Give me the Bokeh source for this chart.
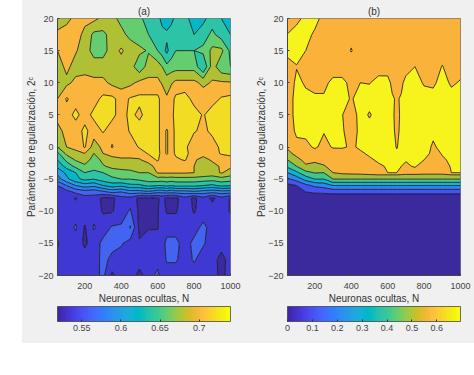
from bokeh.embed import file_html
from bokeh.resources import INLINE
from bokeh.plotting import figure
from bokeh.layouts import row
from bokeh.models import ColorBar, LinearColorMapper, FixedTicker, Range1d

N = [50,100,150,200,250,300,350,400,450,500,550,600,625,650,675,700,750,800,850,900,950,1000]
C = [20,17.5,15,12.5,10,7.5,5,2.5,0,-1,-2,-3,-4,-5,-6,-7,-8,-10,-12.5,-15,-17.5,-20]

ZA = [
[.695,.695,.705,.705,.705,.695,.685,.675,.67,.665,.65,.645,.635,.625,.635,.645,.65,.625,.635,.65,.64,.63],
[.702,.708,.708,.695,.675,.675,.688,.685,.675,.668,.66,.65,.645,.645,.648,.65,.655,.64,.65,.665,.65,.64],
[.70,.718,.702,.69,.672,.672,.69,.703,.69,.685,.678,.66,.65,.635,.65,.66,.66,.66,.665,.685,.685,.655],
[.69,.705,.692,.69,.69,.69,.69,.69,.69,.665,.69,.69,.68,.665,.67,.672,.672,.672,.64,.69,.665,.66],
[.69,.695,.705,.71,.705,.705,.695,.692,.695,.705,.705,.705,.698,.693,.698,.705,.705,.705,.695,.702,.703,.702],
[.70,.722,.712,.712,.712,.725,.725,.712,.722,.725,.725,.725,.712,.702,.712,.725,.73,.712,.712,.712,.722,.725],
[.705,.712,.725,.712,.725,.73,.725,.712,.725,.715,.73,.725,.712,.705,.712,.73,.735,.73,.718,.73,.73,.735],
[.695,.705,.71,.725,.71,.722,.71,.71,.722,.73,.73,.725,.712,.722,.712,.725,.73,.722,.715,.725,.73,.73],
[.68,.70,.705,.722,.69,.705,.722,.705,.71,.722,.725,.725,.712,.722,.712,.725,.725,.705,.705,.71,.725,.725],
[.655,.685,.695,.70,.68,.70,.705,.705,.705,.71,.722,.727,.712,.722,.712,.724,.727,.708,.705,.712,.722,.725],
[.64,.665,.682,.692,.67,.685,.695,.698,.698,.698,.708,.723,.708,.71,.708,.716,.722,.702,.695,.702,.708,.712],
[.625,.648,.665,.675,.668,.678,.685,.688,.688,.688,.692,.708,.705,.705,.705,.705,.705,.70,.69,.695,.702,.704],
[.605,.625,.64,.66,.655,.66,.67,.672,.675,.68,.68,.702,.702,.702,.702,.702,.702,.70,.695,.692,.702,.69],
[.59,.615,.635,.645,.64,.65,.655,.66,.66,.665,.67,.672,.67,.672,.67,.672,.672,.672,.67,.668,.672,.67],
[.56,.58,.60,.61,.605,.62,.63,.625,.635,.635,.645,.64,.64,.645,.64,.645,.645,.645,.64,.635,.645,.64],
[.54,.552,.565,.57,.568,.575,.585,.58,.59,.59,.595,.585,.585,.59,.585,.59,.59,.595,.59,.585,.59,.59],
[.548,.552,.538,.552,.552,.535,.535,.552,.552,.535,.535,.538,.545,.535,.535,.535,.552,.535,.552,.535,.552,.538],
[.545,.552,.552,.552,.552,.538,.538,.552,.562,.535,.535,.538,.55,.538,.538,.538,.552,.538,.55,.552,.552,.538],
[.55,.553,.562,.538,.562,.55,.562,.562,.582,.535,.538,.538,.552,.552,.552,.552,.552,.552,.565,.552,.552,.552],
[.538,.552,.552,.536,.55,.565,.565,.562,.552,.542,.552,.552,.552,.565,.565,.565,.552,.565,.562,.552,.552,.552],
[.545,.552,.552,.55,.552,.565,.556,.552,.552,.552,.552,.552,.552,.562,.562,.562,.552,.562,.552,.552,.53,.552],
[.552,.552,.552,.552,.552,.565,.535,.552,.552,.532,.552,.565,.552,.552,.552,.552,.552,.552,.552,.552,.532,.552],
]

ZB = [
[.63,.64,.66,.66,.64,.63,.63,.63,.63,.63,.63,.63,.63,.63,.63,.63,.63,.63,.63,.63,.63,.63],
[.651,.665,.66,.645,.63,.63,.63,.64,.63,.63,.63,.63,.63,.63,.63,.63,.63,.63,.63,.63,.63,.63],
[.665,.665,.65,.63,.63,.63,.63,.652,.63,.63,.63,.63,.63,.63,.63,.63,.63,.63,.63,.63,.63,.63],
[.63,.648,.63,.63,.63,.63,.63,.63,.63,.63,.63,.63,.63,.63,.63,.63,.65,.63,.63,.652,.63,.63],
[.62,.66,.645,.64,.64,.66,.66,.64,.65,.648,.665,.665,.64,.63,.64,.665,.67,.645,.64,.67,.642,.655],
[.62,.67,.66,.655,.655,.67,.67,.645,.67,.67,.67,.67,.655,.645,.655,.67,.67,.67,.67,.67,.67,.67],
[.62,.67,.67,.67,.67,.67,.652,.62,.67,.645,.67,.67,.655,.642,.655,.67,.67,.67,.67,.67,.67,.67],
[.62,.66,.66,.66,.652,.67,.655,.63,.66,.67,.67,.67,.655,.645,.655,.67,.67,.67,.658,.67,.67,.67],
[.61,.635,.64,.655,.64,.653,.655,.645,.655,.665,.67,.67,.66,.648,.66,.67,.67,.665,.645,.66,.66,.66],
[.58,.62,.63,.635,.635,.635,.63,.635,.645,.655,.66,.66,.655,.655,.66,.66,.66,.665,.64,.652,.66,.66],
[.50,.58,.62,.61,.62,.63,.63,.63,.635,.645,.655,.655,.655,.655,.652,.652,.652,.65,.63,.646,.655,.655],
[.42,.50,.59,.585,.595,.62,.625,.63,.63,.635,.645,.653,.652,.652,.65,.645,.653,.635,.63,.64,.652,.652],
[.30,.38,.47,.505,.50,.60,.62,.625,.63,.64,.65,.65,.65,.65,.642,.635,.635,.63,.63,.63,.65,.65],
[.18,.24,.34,.40,.40,.50,.50,.50,.50,.50,.50,.50,.50,.50,.50,.50,.50,.50,.50,.50,.50,.50],
[.07,.10,.17,.22,.24,.30,.30,.30,.30,.30,.30,.30,.30,.30,.30,.30,.30,.30,.30,.30,.30,.30],
[.03,.05,.10,.115,.12,.13,.13,.13,.13,.13,.13,.13,.13,.13,.13,.13,.13,.13,.13,.13,.13,.13],
[.01,.01,.02,.03,.03,.03,.03,.03,.03,.03,.03,.03,.03,.03,.03,.03,.03,.03,.03,.03,.03,.03],
[.005]*22,
[.005]*22,
[.005]*22,
[.005]*22,
[.005]*22,
]

LEVELS_A = [.52,.54,.56,.58,.60,.62,.64,.66,.68,.70,.72,.74]
COLORS_A = ["#3A2A9C","#4038D2","#4264F0","#2E82F8","#239FE5","#01B8CA","#2CC3A7","#63CD6F","#B0C035","#F9B53C","#F3DD24"]
LEVELS_B = [0,.1,.2,.3,.4,.5,.6,.65,.7]
COLORS_B = ["#3B2A9E","#4752F4","#2E86F7","#0CB5D5","#3BC893","#A4BD3A","#FBB23A","#F6F41C"]
PARULA = ["#3E26A8","#4029B5","#412EC0","#4332CB","#4537D5","#463CDE","#4741E5","#4747EB","#484DF0","#4752F4","#4758F8","#465DFA","#4563FC","#426AFD","#3E6FFF","#3875FE","#327BFC","#2F81FA","#2D87F7","#2D8CF3","#2B91EF","#2796EB","#2599E8","#23A0E5","#20A5E3","#1CA9DF","#18ADDB","#12B1D6","#08B5D0","#01B8CA","#02BBC3","#0BBDBC","#18BFB6","#24C1AE","#2CC3A7","#31C69F","#37C897","#3FCA8E","#4ACB84","#57CC7A","#64CD6F","#72CD64","#81CC59","#8FCB4E","#9DC943","#ABC739","#B9C431","#C5C22A","#D1BF27","#DCBD29","#E6BB2D","#F0BA36","#F8BA3D","#FEBE3C","#FEC338","#FEC932","#FCCF2D","#F9D726","#F7DE20","#F5E51B","#F5EC14","#F5F20E","#F7F908","#F9FB15"]

def panel(z, levels, colors, title, low, high, ticks, labels, w, left, right):
    p = figure(width=w, height=343, x_range=Range1d(50, 1000), y_range=Range1d(-20, 20),
               output_backend="svg", toolbar_location=None, title=title,
               min_border_left=left, min_border_right=right, min_border_top=18, min_border_bottom=68,
               border_fill_alpha=0, background_fill_alpha=0,
               x_axis_label="Neuronas ocultas, N", y_axis_label="Parámetro de regularización, 2ᶜ")
    p.contour(N, C[::-1], z[::-1], levels=levels, fill_color=colors, line_color="#111111", line_width=0.8)
    p.grid.visible = False
    p.outline_line_color = "#444444"
    p.outline_line_width = 0.7
    p.title.align = "center"
    p.title.text_font = "Liberation Sans"
    p.title.text_font_size = "10px"
    p.title.text_font_style = "normal"
    p.title.text_color = "#333333"
    p.title.offset = 0
    p.title.standoff = 4
    for ax in (p.xaxis[0], p.yaxis[0]):
        ax.major_tick_in = 2
        ax.major_tick_out = 0
        ax.minor_tick_line_color = None
        ax.axis_line_color = "#444444"
        ax.major_tick_line_color = "#444444"
        ax.major_label_text_font = "Liberation Sans"
        ax.major_label_text_font_size = "9px"
        ax.major_label_text_color = "#444444"
        ax.axis_label_text_font = "Liberation Sans"
        ax.axis_label_text_font_size = "10px"
        ax.axis_label_text_font_style = "normal"
        ax.axis_label_text_color = "#333333"
    p.xaxis[0].ticker = FixedTicker(ticks=[200,400,600,800,1000])
    p.yaxis[0].ticker = FixedTicker(ticks=[-20,-15,-10,-5,0,5,10,15,20])
    p.xaxis[0].major_label_standoff = 7
    p.yaxis[0].major_label_standoff = 4
    p.xaxis[0].axis_label_standoff = 1
    p.yaxis[0].axis_label_standoff = -2
    mapper = LinearColorMapper(palette=PARULA, low=low, high=high)
    cb = ColorBar(color_mapper=mapper, ticker=FixedTicker(ticks=ticks),
                  major_label_overrides=dict(zip(ticks, labels)),
                  width=173, height=15, padding=0, margin=0, location=(0, 0),
                  background_fill_alpha=0, border_line_color=None,
                  major_tick_in=2, major_tick_line_color="#333333", minor_tick_line_color=None,
                  bar_line_color="#333333", bar_line_width=0.7,
                  major_label_text_font="Liberation Sans", major_label_text_font_size="9px",
                  major_label_text_color="#444444", label_standoff=3)
    p.add_layout(cb, "below")
    return p

a = panel(ZA, LEVELS_A, COLORS_A, "(a)", 0.519, 0.74, [.55,.6,.65,.7], ["0.55","0.6","0.65","0.7"], 244, 57, 14)
b = panel(ZB, LEVELS_B, COLORS_B, "(b)", 0, 0.695, [0,.1,.2,.3,.4,.5,.6], ["0","0.1","0.2","0.3","0.4","0.5","0.6"], 230, 43, 14)

html = file_html(row(a, b, spacing=0), INLINE)
style = "<style>html{background:#fff linear-gradient(#f0f0f0,#f0f0f0) 22px 0/452px 343px no-repeat}body{margin:0;background:transparent}</style>"
html = html.replace("</head>", style + "</head>", 1)
open("out.html", "w").write(html)
